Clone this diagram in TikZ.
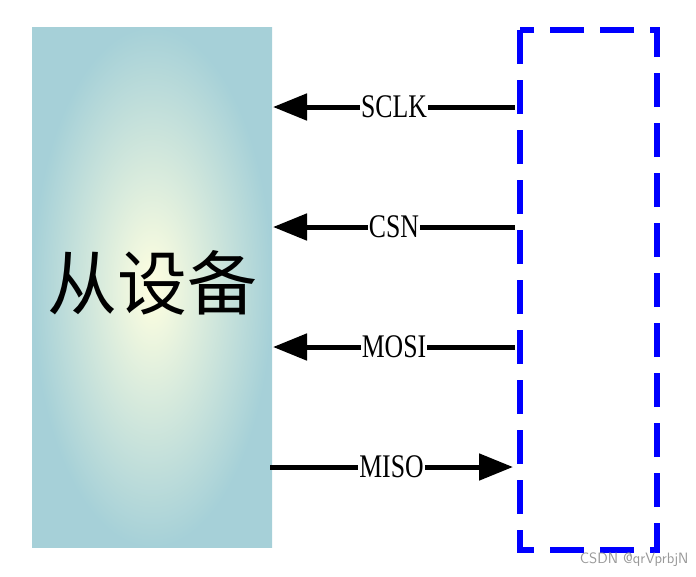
\documentclass[tikz,border=0pt]{standalone}
\usepackage{fontspec}
\setmainfont{Liberation Serif}
\newfontfamily\narrowserif[FakeStretch=0.78]{Liberation Serif}
\newfontfamily\cjk{Noto Sans CJK SC}
\usetikzlibrary{arrows.meta}
\tikzstyle{sig}=[draw,line width=5pt,-{Triangle[length=34pt,width=26pt]}]
\tikzstyle{siglabel}=[fill=white,inner sep=1pt,font=\narrowserif\fontsize{33}{33}\selectfont]
\begin{document}
\begin{tikzpicture}[x=1pt,y=-1pt]
        \useasboundingbox (0,0) rectangle (696,576);
        \shade[inner color=yellow!12!white,outer color=cyan!30!blue!12!teal!35!white] (32,27) rectangle (272,547);
        \node[font=\cjk\fontsize{70}{70}\selectfont] (slave) at (152,283) {从设备};
        \draw[blue,line width=6pt,dash pattern=on 34pt off 16pt] (520,30) rectangle (657,550);
        \coordinate (m1) at (515,107);
        \coordinate (s1) at (273,107);
        \coordinate (m2) at (515,227);
        \coordinate (s2) at (273,227);
        \coordinate (m3) at (515,347);
        \coordinate (s3) at (273,347);
        \coordinate (s4) at (270,467);
        \coordinate (m4) at (513,467);
        \draw[sig] (m1) -- node[siglabel] {SCLK} (s1);
        \draw[sig] (m2) -- node[siglabel] {CSN} (s2);
        \draw[sig] (m3) -- node[siglabel] {MOSI} (s3);
        \draw[sig] (s4) -- node[siglabel] {MISO} (m4);
        \node[text=gray!80,font=\sffamily\fontsize{15}{15}\selectfont,anchor=south east] (mark) at (692,570) {CSDN @qrVprbjN};
      \end{tikzpicture}
\end{document}
